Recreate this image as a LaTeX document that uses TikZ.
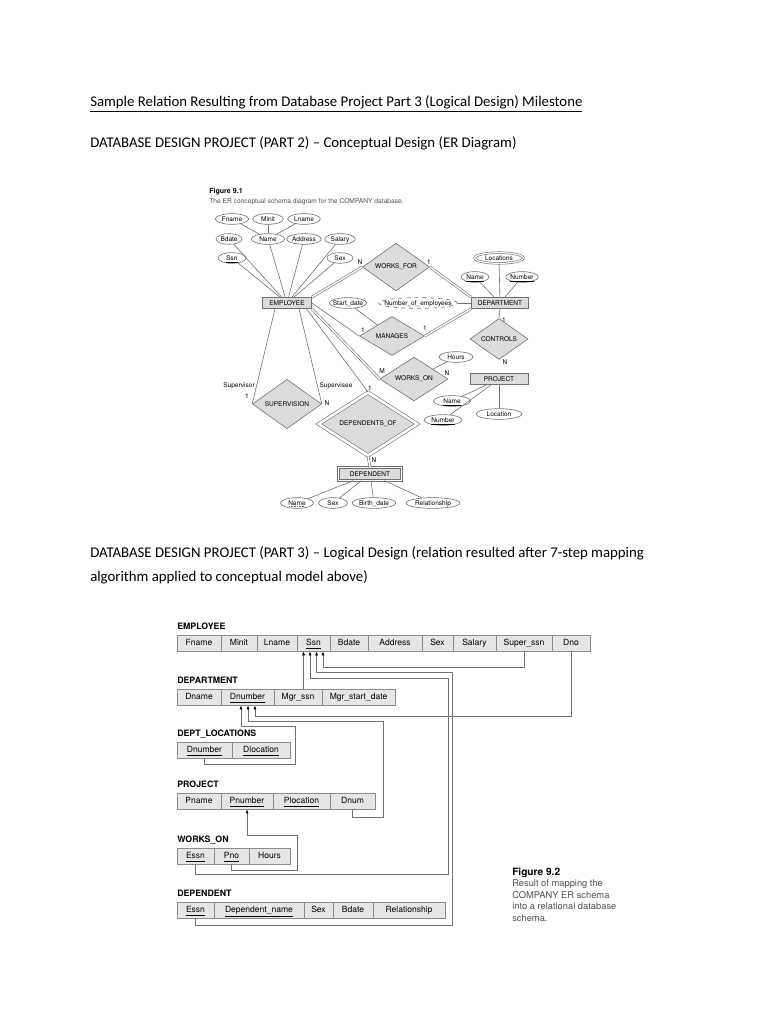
\documentclass[tikz,border=0pt]{standalone}
\usepackage{fontspec}
\usetikzlibrary{shapes.geometric,arrows.meta}
\setmainfont{Carlito}
\newfontfamily\figfont{TeX Gyre Heros}
\definecolor{ergray}{HTML}{707070}
\definecolor{erfill}{HTML}{DCDCDC}
\definecolor{cellline}{HTML}{8C8C8C}
\definecolor{cellfill}{HTML}{E6E6E6}
\definecolor{captext}{HTML}{505050}
\newcommand\erfont{\figfont\fontsize{4.9}{6}\selectfont}
\newcommand\relfont{\figfont\fontsize{6.4}{8}\selectfont}
\newcommand\relbold{\figfont\bfseries\fontsize{6.6}{8}\selectfont}

\begin{document}
\begin{tikzpicture}[x=.75pt,y=-.75pt,
  heading/.style={anchor=base west,inner sep=0pt,font=\fontsize{11.1}{13}\selectfont},
  attr/.style={ellipse,draw=ergray,fill=white,line width=.45pt,inner xsep=-12pt,inner ysep=0pt,text height=4.2pt,text depth=.8pt,minimum height=8pt,minimum width=#1,font=\erfont},
  entity/.style={rectangle,draw=ergray,fill=erfill,line width=.45pt,inner sep=0pt,minimum height=8.25pt,font=\erfont},
  rel/.style={diamond,draw=ergray,fill=erfill,line width=.45pt,inner sep=0pt,font=\erfont},
  card/.style={inner sep=0pt,font=\erfont},
  partial/.style={draw=ergray,line width=.45pt},
  total/.style={draw=ergray,line width=.45pt,double,double distance=1.1pt},
  tabname/.style={anchor=base west,inner sep=0pt,font=\relbold},
  relcell/.style={rectangle,draw=cellline,fill=cellfill,line width=.5pt,inner sep=0pt,text height=5.6pt,text depth=1.2pt,minimum height=12pt,minimum width=#1,font=\relfont},
  fk/.style={draw=ergray,line width=.5pt,-{Latex[length=3pt,width=2.2pt,color=black]}},
  capline/.style={anchor=base west,inner sep=0pt,font=\figfont\fontsize{7}{8}\selectfont,text=captext}]
\path[use as bounding box] (0,0) rectangle (768,1024);

\node[heading] (title) at (90,107) {\underline{Sample Relation Resulting from Database Project Part 3 (Logical Design) Milestone}};
\node[heading] (part2) at (90,147) {DATABASE DESIGN PROJECT (PART 2) -- Conceptual Design (ER Diagram)};
\node[heading] (part3a) at (90,557) {DATABASE DESIGN PROJECT (PART 3) -- Logical Design (relation resulted after 7-step mapping};
\node[heading] (part3b) at (90,581) {algorithm applied to conceptual model above)};

% ER diagram
\node[anchor=base west,inner sep=0pt,font=\figfont\bfseries\fontsize{5.3}{6}\selectfont] (fig1) at (209,193) {Figure 9.1};
\node[anchor=base west,inner sep=0pt,font=\figfont\fontsize{5}{6}\selectfont,text=captext] (fig1text) at (209,203) {The ER conceptual schema diagram for the COMPANY database.};

\node[entity,minimum width=36.75pt] (employee) at (287,303) {EMPLOYEE};
\node[attr=25pt] (fname) at (232,219) {Fname};
\node[attr=23pt] (minit) at (268,219) {Minit};
\node[attr=24.5pt] (lname) at (304,219) {Lname};
\node[attr=19.5pt] (bdate) at (229,239) {Bdate};
\node[attr=25pt] (ename) at (268,239) {Name};
\node[attr=26pt] (address) at (304,239) {Address};
\node[attr=23pt] (salary) at (340,239) {Salary};
\node[attr=21pt] (ssn) at (232,258) {\underline{Ssn}};
\node[attr=19.5pt] (sex) at (340,258) {Sex};

\node[rel,minimum width=50.25pt,minimum height=30pt] (worksfor) at (396,267) {WORKS\_FOR};
\node[entity,minimum width=42.75pt] (department) at (500,303) {DEPARTMENT};
\node[attr=36.5pt,double,double distance=.9pt] (locations) at (499,258) {Locations};
\node[attr=21pt] (dname) at (475,277) {\underline{Name}};
\node[attr=24.5pt] (dnumber) at (522,277) {\underline{Number}};
\node[attr=28pt] (startdate) at (348,303) {Start\_date};
\node[attr=59pt,dashed] (numemp) at (418,303) {Number\_of\_employees};
\node[rel,minimum width=48.75pt,minimum height=29.25pt] (manages) at (392,336) {MANAGES};
\node[rel,minimum width=43.5pt,minimum height=26.25pt] (controls) at (499,339) {CONTROLS};
\node[entity,minimum width=43.5pt] (project) at (499,379) {PROJECT};
\node[rel,minimum width=51pt,minimum height=31.5pt] (workson) at (414,379) {WORKS\_ON};
\node[attr=25.5pt] (hours) at (456,357) {Hours};
\node[attr=27.75pt] (pname) at (452,401) {\underline{Name}};
\node[attr=28.5pt] (pnumber) at (443,420) {\underline{Number}};
\node[attr=34.5pt] (plocation) at (499,414) {Location};
\node[rel,minimum width=51.75pt,minimum height=31.5pt] (supervision) at (287,404) {SUPERVISION};
\node[rel,minimum width=74pt,minimum height=38pt,double,double distance=2pt] (dependentsof) at (368,424) {DEPENDENTS\_OF};
\node[entity,minimum width=47.5pt,minimum height=9.5pt,double,double distance=1.2pt] (dependent) at (370,474) {DEPENDENT};
\node[attr=24.75pt] (depname) at (297,503) {Name};
\node[attr=21.75pt] (depsex) at (333,503) {Sex};
\node[attr=33pt] (birthdate) at (374,503) {Birth\_date};
\node[attr=40.5pt] (relationship) at (433,503) {Relationship};
% partial key
\draw[ergray,line width=.35pt,dash pattern=on .7pt off .5pt] ([xshift=-6pt,yshift=-2.2pt]depname.center) -- ([xshift=6pt,yshift=-2.2pt]depname.center);

\draw[partial] (ename) -- (fname);
\draw[partial] (ename) -- (minit);
\draw[partial] (ename) -- (lname);
\draw[partial] (employee) -- (ssn);
\draw[partial] (employee) -- (bdate);
\draw[partial] (employee) -- (ename);
\draw[partial] (employee) -- (address);
\draw[partial] (employee) -- (salary);
\draw[partial] (employee) -- (sex);
\draw[total] (employee.north east) -- (worksfor.west);
\draw[total] (worksfor.east) -- (department.north west);
\draw[partial] (employee.east) -- (manages.west);
\draw[total] (manages.east) -- (department.south west);
\draw[partial] (startdate) -- (manages);
\draw[partial] (numemp) -- (department);
\draw[partial] (department) -- (dname);
\draw[partial] (department) -- (locations);
\draw[partial] (department) -- (dnumber);
\draw[partial] (department.south) -- (controls.north);
\draw[total] (controls.south) -- (project.north);
\draw[total] (employee.south east) -- (workson.west);
\draw[total] (workson.east) -- (project.west);
\draw[partial] (workson) -- (hours);
\draw[partial] (project) -- (pname);
\draw[partial] (project) -- (pnumber);
\draw[partial] (project) -- (plocation);
\draw[partial] ([xshift=-9pt]employee.south) -- (supervision.west);
\draw[partial] ([xshift=9pt]employee.south) -- (supervision.east);
\draw[partial] ([xshift=-4pt]employee.south east) -- (dependentsof.north);
\draw[total] (dependentsof.south) -- (dependent.north);
\draw[partial] (dependent) -- (depname);
\draw[partial] (dependent) -- (depsex);
\draw[partial] (dependent) -- (birthdate);
\draw[partial] (dependent) -- (relationship);

\node[card] (wfN) at (360,262) {N};
\node[card] (wf1) at (429,262) {1};
\node[card] (mg1a) at (363,330) {1};
\node[card] (mg1b) at (425,328) {1};
\node[card] (ct1) at (504,320) {1};
\node[card] (ctN) at (505,362) {N};
\node[card] (woM) at (382,371) {M};
\node[card] (woN) at (447,373) {N};
\node[card] (suprole) at (239,386) {Supervisor};
\node[card] (sup1) at (247,396) {1};
\node[card] (seerole) at (336,386) {Supervisee};
\node[card] (supN) at (327,403) {N};
\node[card] (do1) at (370,388) {1};
\node[card] (doN) at (374,460) {N};

% relational schema
\node[tabname] (tEmployee) at (177,629) {EMPLOYEE};
\node[relcell=33pt] (empFname) at (199,643) {Fname};
\node[relcell=27pt] (empMinit) at (239,643) {Minit};
\node[relcell=30pt] (empLname) at (277,643) {Lname};
\node[relcell=24.75pt] (empSsn) at (313.5,643) {\underline{Ssn}};
\node[relcell=28.5pt] (empBdate) at (349,643) {Bdate};
\node[relcell=40.5pt] (empAddress) at (395,643) {Address};
\node[relcell=23.25pt] (empSex) at (437.5,643) {Sex};
\node[relcell=32.25pt] (empSalary) at (474.5,643) {Salary};
\node[relcell=42pt] (empSuperssn) at (524,643) {Super\_ssn};
\node[relcell=28.5pt] (empDno) at (571,643) {Dno};

\node[tabname] (tDepartment) at (177,683) {DEPARTMENT};
\node[relcell=33pt] (deptDname) at (199,697) {Dname};
\node[relcell=39.75pt] (deptDnumber) at (247.5,697) {\underline{Dnumber}};
\node[relcell=36pt] (deptMgrssn) at (298,697) {Mgr\_ssn};
\node[relcell=54.75pt] (deptMgrdate) at (358.5,697) {Mgr\_start\_date};

\node[tabname] (tDeptloc) at (177,736) {DEPT\_LOCATIONS};
\node[relcell=41.25pt] (dlDnumber) at (204.5,750) {\underline{Dnumber}};
\node[relcell=43.5pt] (dlDlocation) at (261,750) {\underline{Dlocation}};

\node[tabname] (tProject) at (177,787) {PROJECT};
\node[relcell=33pt] (projPname) at (199,801) {Pname};
\node[relcell=39pt] (projPnumber) at (247,801) {\underline{Pnumber}};
\node[relcell=42.75pt] (projPlocation) at (301.5,801) {\underline{Plocation}};
\node[relcell=33.75pt] (projDnum) at (352.5,801) {Dnum};

\node[tabname] (tWorkson) at (177,842) {WORKS\_ON};
\node[relcell=27.75pt] (woEssn) at (195.5,856) {\underline{Essn}};
\node[relcell=26.25pt] (woPno) at (231.5,856) {\underline{Pno}};
\node[relcell=30.75pt] (woHours) at (269.5,856) {Hours};

\node[tabname] (tDependent) at (177,896) {DEPENDENT};
\node[relcell=27.75pt] (depEssn) at (195.5,910) {\underline{Essn}};
\node[relcell=67.5pt] (depDepname) at (259,910) {\underline{Dependent\_name}};
\node[relcell=21.75pt] (depSex) at (318.5,910) {Sex};
\node[relcell=30pt] (depBdate) at (353,910) {Bdate};
\node[relcell=54pt] (depRelationship) at (409,910) {Relationship};

\coordinate (ssnA) at ([xshift=-7.5pt]empSsn.south);
\coordinate (ssnB) at ([xshift=-2.6pt]empSsn.south);
\coordinate (ssnC) at ([xshift=2.3pt]empSsn.south);
\coordinate (ssnD) at ([xshift=7.1pt]empSsn.south);
\coordinate (dnumA) at ([xshift=-4.9pt]deptDnumber.south);
\coordinate (dnumB) at ([xshift=.4pt]deptDnumber.south);
\coordinate (dnumC) at ([xshift=5.6pt]deptDnumber.south);

\draw[fk] (deptMgrssn.north -| ssnA) -- (ssnA);
\draw[fk] (empSuperssn.south) -- ++(0,16) -| (ssnD);
\draw[fk] (woEssn.south) |- (448,874) -- (448,678) -| (ssnB);
\draw[fk] (depEssn.south) |- (452,925) -- (452,672) -| (ssnC);
\draw[fk] (empDno.south) -- ++(0,65) -| (dnumC);
\draw[fk] (projDnum.south) -- ++(0,8) -| (383,721) -| (dnumB);
\draw[fk] (dlDnumber.south) -- ++(0,6) -| (295,726) -| (dnumA);
\draw[fk] (woPno.south) -- ++(0,6) -| (297,835) -| (projPnumber.south);

\node[anchor=base west,inner sep=0pt,font=\figfont\bfseries\fontsize{7.6}{9}\selectfont] (fig2) at (512,875) {Figure 9.2};
\node[capline] (cap1) at (512,886) {Result of mapping the};
\node[capline] (cap2) at (512,898) {COMPANY ER schema};
\node[capline] (cap3) at (512,909) {into a relational database};
\node[capline] (cap4) at (512,921) {schema.};
\end{tikzpicture}
\end{document}
